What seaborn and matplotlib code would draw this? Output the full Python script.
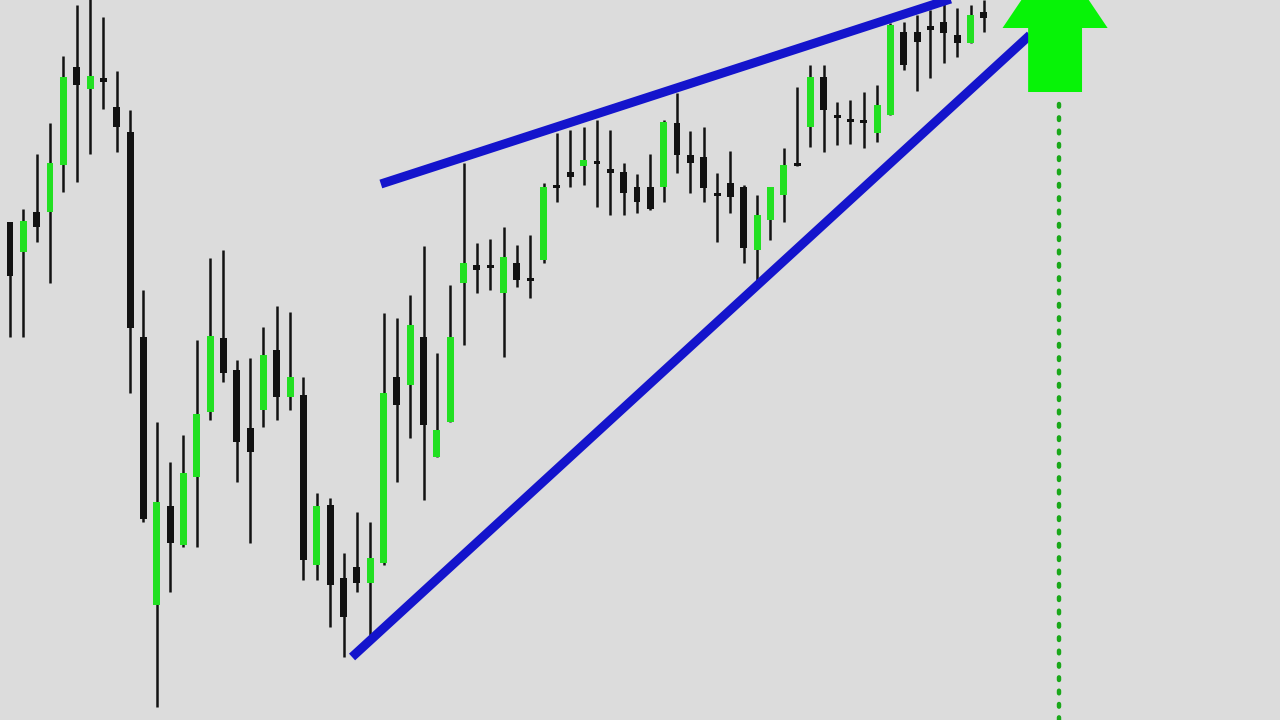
import numpy as np
import pandas as pd
import matplotlib
matplotlib.use("Agg")
import matplotlib.pyplot as plt
import seaborn as sns
from matplotlib.patches import Polygon

# ---- data (price units) ----
opens = [498, 468, 508, 508, 555, 653, 631, 642, 613, 588, 383, 115, 214, 175, 243, 308, 382, 350, 292, 310,
         370, 323, 325, 155, 215, 142, 153, 137, 157, 343, 335, 383, 263, 298, 437, 455, 454, 427, 457, 441,
         460, 534, 548, 554, 558, 551, 548, 533, 533, 533, 597, 565, 563, 526, 537, 533, 470, 500, 525, 556,
         593, 643, 604, 600, 599, 587, 605, 688, 688, 694, 698, 685, 677, 708]
highs = [498, 511, 566, 597, 664, 715, 724, 703, 649, 610, 430, 298, 258, 285, 380, 462, 470, 360, 362, 393,
         414, 408, 343, 227, 222, 167, 208, 198, 407, 402, 425, 474, 367, 435, 557, 477, 481, 493, 475, 485,
         537, 587, 590, 593, 600, 590, 557, 546, 566, 600, 627, 589, 593, 547, 569, 535, 525, 533, 572, 633,
         655, 655, 618, 620, 628, 635, 697, 698, 705, 710, 717, 712, 715, 720]
lows = [383, 383, 478, 437, 528, 538, 566, 611, 568, 327, 198, 13, 128, 173, 173, 300, 338, 238, 177, 293,
        300, 310, 140, 140, 93, 63, 128, 85, 155, 238, 282, 220, 263, 298, 375, 427, 430, 363, 433, 422,
        457, 518, 533, 535, 513, 505, 505, 507, 510, 518, 547, 527, 518, 478, 507, 457, 438, 480, 498, 554,
        573, 568, 575, 576, 572, 578, 605, 650, 629, 642, 657, 663, 677, 688]
closes = [444, 499, 493, 557, 643, 635, 644, 638, 593, 392, 201, 218, 177, 247, 306, 384, 347, 278, 268, 365,
          323, 343, 160, 214, 135, 103, 137, 162, 327, 315, 395, 295, 290, 383, 457, 450, 452, 463, 440, 439,
          533, 532, 543, 560, 556, 547, 527, 518, 511, 598, 565, 557, 532, 524, 523, 472, 505, 533, 555, 554,
          643, 610, 602, 598, 597, 615, 695, 655, 678, 690, 687, 677, 705, 702]

# trendlines (candle index, price)
upper_x = [27.8, 71.2]
upper_y = [536, 724]
lower_x = [25.64, 76.46]
lower_y = [63, 685]
# breakout arrow / projection
arrow_x = 78.34
arrow_base = 628
arrow_neck = 692
arrow_tip = 770
target_x = 78.6
target_top = 626
target_bottom = 0

df = pd.DataFrame({"open": opens, "high": highs, "low": lows, "close": closes})
df["idx"] = np.arange(len(df))
df["up"] = df["close"] >= df["open"]

BG = "#dcdcdc"
GREEN = "#22e022"
BLACK = "#121212"
BLUE = "#1414cc"
ARROW = "#07f307"

sns.set_theme(style="white", rc={"axes.facecolor": BG, "figure.facecolor": BG})

fig = plt.figure(figsize=(12.8, 7.2), dpi=100)
ax = fig.add_axes([0, 0, 1, 1])
ax.set_facecolor(BG)

# wicks
ax.vlines(df["idx"], df["low"], df["high"], color=BLACK, linewidth=1.8, zorder=2)
# bodies
body_bottom = np.minimum(df["open"], df["close"])
body_h = np.maximum(np.abs(df["close"] - df["open"]), 3)
colors = [GREEN if u else BLACK for u in df["up"]]
ax.bar(df["idx"], body_h, bottom=body_bottom, width=0.52, color=colors, linewidth=0, zorder=3)

# trendlines via seaborn
tl = pd.DataFrame({"x": upper_x + lower_x, "y": upper_y + lower_y,
                   "line": ["upper"] * 2 + ["lower"] * 2})
sns.lineplot(data=tl, x="x", y="y", units="line", estimator=None, color=BLUE,
             linewidth=6.5, ax=ax, zorder=4, solid_capstyle="butt")

# dotted projection line
ax.plot([target_x, target_x], [target_bottom, target_top], color="#1aa81a",
        linestyle=(0, (0.6, 2.4)), linewidth=3.2, dash_capstyle="round", zorder=4)

# arrow
hw_head = 3.94
hw_shaft = 2.02
arrow_pts = [
    (arrow_x - hw_shaft, arrow_base), (arrow_x + hw_shaft, arrow_base),
    (arrow_x + hw_shaft, arrow_neck), (arrow_x + hw_head, arrow_neck),
    (arrow_x, arrow_tip), (arrow_x - hw_head, arrow_neck),
    (arrow_x - hw_shaft, arrow_neck),
]
ax.add_patch(Polygon(arrow_pts, closed=True, facecolor=ARROW, edgecolor="none", zorder=5))

ax.set_xlim(-0.75, 95.2)
ax.set_ylim(0, 720)
ax.axis("off")

fig.savefig("out.png", dpi=100, facecolor=BG)
